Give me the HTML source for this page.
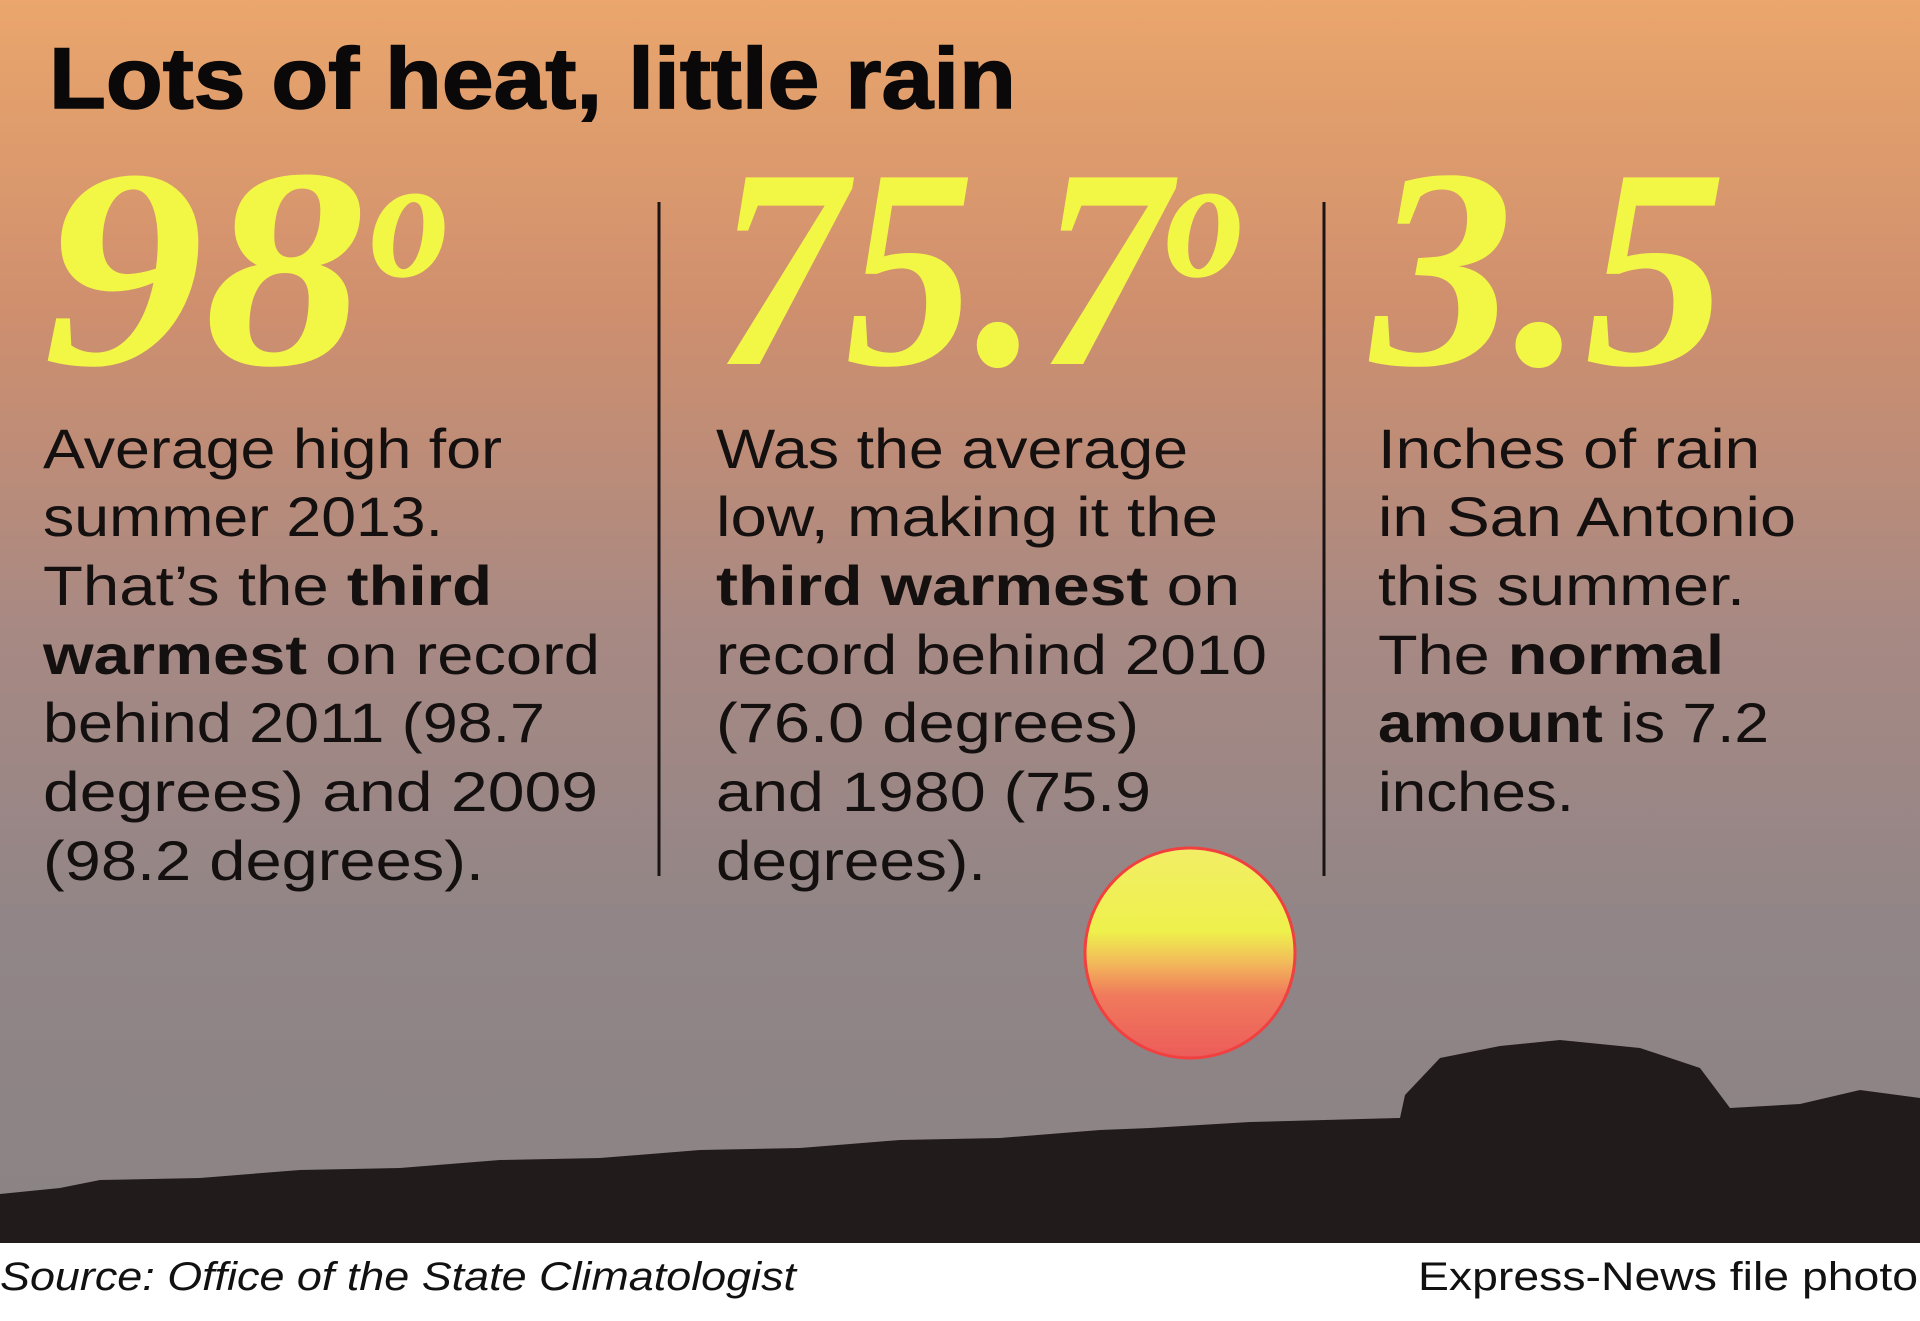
<!DOCTYPE html>
<html><head><meta charset="utf-8"><style>
html,body{margin:0;padding:0;width:1920px;height:1321px;overflow:hidden;background:#fff}
svg{display:block}
.body{font-family:"Liberation Sans",sans-serif;font-size:56px;fill:#141010}
.big{font-family:"Liberation Serif",serif;font-weight:bold;font-style:italic;fill:#f2f745}
</style></head><body>
<svg width="1920" height="1321" viewBox="0 0 1920 1321">
<defs>
<linearGradient id="sky" x1="0" y1="0" x2="0" y2="1">
<stop offset="0" stop-color="#eaa66c"/>
<stop offset="0.25" stop-color="#cf8f6e"/>
<stop offset="0.5" stop-color="#a88983"/>
<stop offset="0.75" stop-color="#918587"/>
<stop offset="1" stop-color="#8a8384"/>
</linearGradient>
<linearGradient id="sun" x1="0" y1="0" x2="0" y2="1">
<stop offset="0" stop-color="#f2ee66"/>
<stop offset="0.4" stop-color="#eef04c"/>
<stop offset="0.55" stop-color="#f2b85a"/>
<stop offset="0.7" stop-color="#f07a5c"/>
<stop offset="1" stop-color="#ec5c5a"/>
</linearGradient>
</defs>
<rect x="0" y="0" width="1920" height="1243" fill="url(#sky)"/>
<circle cx="1190" cy="953" r="105" fill="url(#sun)" stroke="#f04040" stroke-width="3"/>
<path d="M0 1194 L60 1188 L100 1180 L200 1178 L300 1170 L400 1168 L500 1160 L600 1158 L700 1150 L800 1148 L900 1140 L1000 1138 L1100 1130 L1150 1128 L1250 1122 L1400 1118 L1405 1095 L1440 1058 L1500 1046 L1560 1040 L1640 1048 L1700 1068 L1730 1108 L1800 1104 L1860 1090 L1920 1098 L1920 1243 L0 1243 Z" fill="#211c1b"/>
<rect x="0" y="1243" width="1920" height="78" fill="#fff"/>
<text x="49" y="108" font-family="Liberation Sans,sans-serif" font-weight="bold" font-size="86" fill="#0a0808" stroke="#0a0808" stroke-width="1.5" textLength="967" lengthAdjust="spacingAndGlyphs">Lots of heat, little rain</text>
<line x1="659" y1="202" x2="659" y2="876" stroke="#1a1414" stroke-width="3"/>
<line x1="1324" y1="202" x2="1324" y2="876" stroke="#1a1414" stroke-width="3"/>

<g>
<text class="big" x="43" y="364" font-size="285" textLength="322" lengthAdjust="spacingAndGlyphs">98</text>
<text class="big" x="370" y="276" font-size="175" textLength="80" lengthAdjust="spacingAndGlyphs">o</text>
</g>
<g>
<text class="big" x="716" y="364" font-size="285" textLength="453" lengthAdjust="spacingAndGlyphs">75.7</text>
<text class="big" x="1165" y="276" font-size="175" textLength="80" lengthAdjust="spacingAndGlyphs">o</text>
</g>
<g>
<text class="big" x="1371" y="364" font-size="285" textLength="356" lengthAdjust="spacingAndGlyphs">3.5</text>
</g>

<g class="body">
<text x="43" y="468" textLength="459" lengthAdjust="spacingAndGlyphs">Average high for</text>
<text x="43" y="536" textLength="400" lengthAdjust="spacingAndGlyphs">summer 2013.</text>
<text x="43" y="605" textLength="449" lengthAdjust="spacingAndGlyphs">That’s the <tspan font-weight="bold">third</tspan></text>
<text x="43" y="674" textLength="557" lengthAdjust="spacingAndGlyphs"><tspan font-weight="bold">warmest</tspan> on record</text>
<text x="43" y="742" textLength="502" lengthAdjust="spacingAndGlyphs">behind 2011 (98.7</text>
<text x="43" y="811" textLength="555" lengthAdjust="spacingAndGlyphs">degrees) and 2009</text>
<text x="43" y="880" textLength="441" lengthAdjust="spacingAndGlyphs">(98.2 degrees).</text>
</g>
<g class="body">
<text x="716" y="468" textLength="472" lengthAdjust="spacingAndGlyphs">Was the average</text>
<text x="716" y="536" textLength="502" lengthAdjust="spacingAndGlyphs">low, making it the</text>
<text x="716" y="605" textLength="524" lengthAdjust="spacingAndGlyphs"><tspan font-weight="bold">third warmest</tspan> on</text>
<text x="716" y="674" textLength="551" lengthAdjust="spacingAndGlyphs">record behind 2010</text>
<text x="716" y="742" textLength="423" lengthAdjust="spacingAndGlyphs">(76.0 degrees)</text>
<text x="716" y="811" textLength="435" lengthAdjust="spacingAndGlyphs">and 1980 (75.9</text>
<text x="716" y="880" textLength="270" lengthAdjust="spacingAndGlyphs">degrees).</text>
</g>
<g class="body">
<text x="1378" y="468" textLength="382" lengthAdjust="spacingAndGlyphs">Inches of rain</text>
<text x="1378" y="536" textLength="418" lengthAdjust="spacingAndGlyphs">in San Antonio</text>
<text x="1378" y="605" textLength="367" lengthAdjust="spacingAndGlyphs">this summer.</text>
<text x="1378" y="674" textLength="346" lengthAdjust="spacingAndGlyphs">The <tspan font-weight="bold">normal</tspan></text>
<text x="1378" y="742" textLength="391" lengthAdjust="spacingAndGlyphs"><tspan font-weight="bold">amount</tspan> is 7.2</text>
<text x="1378" y="811" textLength="196" lengthAdjust="spacingAndGlyphs">inches.</text>
</g>

<text x="0" y="1290" font-family="Liberation Sans,sans-serif" font-style="italic" font-size="40" fill="#111" textLength="796" lengthAdjust="spacingAndGlyphs">Source: Office of the State Climatologist</text>
<text x="1918" y="1290" text-anchor="end" font-family="Liberation Sans,sans-serif" font-size="40" fill="#111" textLength="500" lengthAdjust="spacingAndGlyphs">Express-News file photo</text>
</svg>
</body></html>
